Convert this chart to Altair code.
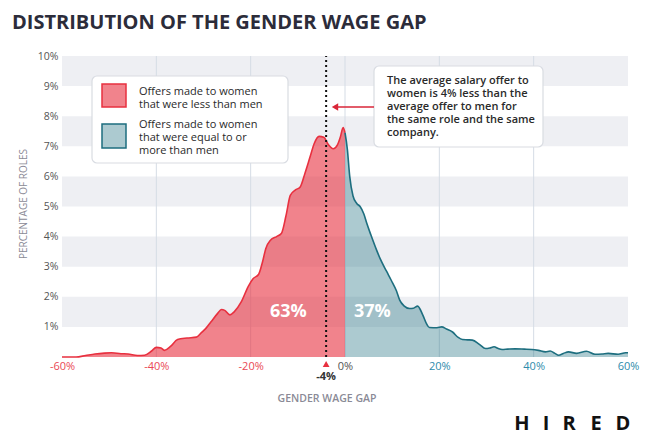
import altair as alt
import pandas as pd

# Distribution of offers by gender wage gap (% gap, % of roles)
gap = [-60, -57, -55, -53, -51, -49.5, -47.5, -46, -44, -42.5, -41, -40, -39, -38.3,
       -37, -35.5, -33.5, -31.5, -30.5, -29.5, -28.4, -27, -26.2, -25.5, -24.4, -23.5,
       -22, -20.5, -19.5, -18.3, -17.5, -16.8, -15.8, -14.5, -13.5, -12.5, -11.6, -10.5,
       -9.5, -8.5, -7.4, -6.5, -5.5, -4.5, -3.5, -2.5, -1.6, -1.0, -0.4, 0,
       0.5, 1.0, 1.7, 2.5, 3.2, 4.0, 4.6, 5.5, 6.7, 7.5, 8.8, 9.8, 10.9, 11.6, 12.5,
       13.7, 14.5, 15.4, 16.5, 17.3, 17.9, 19.5, 20.5, 21.5, 22.8, 24, 24.9, 26, 27,
       28.5, 29.8, 30.7, 31.6, 32.5, 33.3, 34.5, 36.1, 38, 39.6, 41, 42.5, 43.5, 44.5,
       45.3, 46.3, 47.4, 49.1, 51.2, 53, 54.5, 55.8, 57.9, 59.5, 60]
share = [0.0, 0.0, 0.05, 0.1, 0.13, 0.14, 0.11, 0.1, 0.05, 0.06, 0.2, 0.32, 0.3, 0.22,
         0.35, 0.58, 0.63, 0.66, 0.8, 0.95, 1.17, 1.45, 1.58, 1.55, 1.4, 1.5,
         1.83, 2.35, 2.6, 2.75, 3.15, 3.6, 3.88, 4.0, 4.1, 4.7, 5.37, 5.55,
         5.65, 6.1, 6.65, 7.1, 7.33, 7.3, 7.05, 6.92, 7.05, 7.3, 7.62, 7.45,
         6.9, 6.0, 5.35, 5.1, 5.0, 4.75, 4.45, 4.05, 3.55, 3.25, 2.85, 2.55, 2.2, 1.89, 1.7,
         1.61, 1.62, 1.69, 1.39, 1.1, 0.98, 0.97, 1.0, 0.93, 0.83, 0.65, 0.58, 0.57, 0.56,
         0.42, 0.28, 0.3, 0.34, 0.28, 0.25, 0.26, 0.27, 0.26, 0.25, 0.22, 0.17, 0.2, 0.12,
         0.06, 0.12, 0.17, 0.12, 0.19, 0.09, 0.1, 0.12, 0.09, 0.14, 0.14]

sides = ["less", "more"]
side_labels = [["Offers made to women", "that were less than men"],
               ["Offers made to women", "that were equal to or", "more than men"]]
side_shares = ["63%", "37%"]
mean_gap = -4
x_ticks = [-60, -40, -20, 0, 20, 40, 60]
y_ticks = [1, 2, 3, 4, 5, 6, 7, 8, 9, 10]
band_starts = [1, 3, 5, 7, 9]
grid_x = [-40, -20, 0, 20, 40]
note_lines = ["The average salary offer to", "women is 4% less than the",
              "average offer to men for", "the same role and the same", "company."]

RED = "#e8303f"
TEAL = "#1d6e7f"
RED_TXT = "#ea4855"
TEAL_TXT = "#2e8bab"
FONT = "Open Sans"

rows = []
for g, s in zip(gap, share):
    if g <= 0:
        rows.append({"gap": g, "share": s, "side": "less"})
    if g >= 0:
        rows.append({"gap": g, "share": s, "side": "more"})
curve = pd.DataFrame(rows)
bands = pd.DataFrame({"lo": band_starts, "hi": [b + 1 for b in band_starts]})
grid = pd.DataFrame({"g": grid_x})
one = pd.DataFrame({"k": [0]})

x_scale = alt.Scale(domain=[-60, 60], nice=False, zero=False)
y_scale = alt.Scale(domain=[0, 10], nice=False)
x_axis = alt.Axis(values=x_ticks, labelExpr="datum.value + '%'", grid=False, domain=False,
                  ticks=False, labelPadding=3, labelFontSize=11, labelFont=FONT,
                  labelFlush=False, labelOverlap=False,
                  labelColor={"condition": [{"test": "datum.value < 0", "value": RED_TXT},
                                            {"test": "datum.value > 0", "value": TEAL_TXT}],
                              "value": "#555555"},
                  title=None)
y_axis = alt.Axis(values=y_ticks, labelExpr="datum.value + '%'", grid=False, domain=False,
                  ticks=False, labelPadding=4, labelFontSize=10.5, labelFont=FONT,
                  labelFlush=False, labelOverlap=False,
                  labelColor="#555555", title=None)


def X(field):
    return alt.X(field, type="quantitative", scale=x_scale, axis=x_axis)


def Y(field, **kw):
    return alt.Y(field, type="quantitative", scale=y_scale, axis=y_axis, **kw)


def XD(v):
    return alt.XDatum(v, type="quantitative", scale=x_scale, axis=x_axis)


def YD(v):
    return alt.YDatum(v, type="quantitative", scale=y_scale, axis=y_axis)


band_layer = alt.Chart(bands).mark_rect(color="#eeeff3").encode(
    x=XD(-60), x2=alt.datum(60), y=Y("lo"), y2="hi")

grid_layer = alt.Chart(grid).mark_rule(color="#d5dce5", strokeWidth=1).encode(
    x=X("g"), y=YD(0), y2=alt.datum(10))

color_scale = alt.Scale(domain=sides, range=[RED, TEAL])
area_layer = alt.Chart(curve).mark_area(interpolate="monotone").encode(
    x=X("gap"), y=Y("share", stack=None),
    color=alt.Color("side:N", scale=color_scale, legend=None),
    opacity=alt.Opacity("side:N", scale=alt.Scale(domain=sides, range=[0.6, 0.37]), legend=None))

line_layer = alt.Chart(curve).mark_line(interpolate="monotone", strokeWidth=1.6).encode(
    x=X("gap"), y=Y("share", stack=None),
    color=alt.Color("side:N", scale=color_scale, legend=None))

mean_rule = alt.Chart(one).mark_rule(color="#111111", strokeWidth=2, strokeDash=[2, 3]).encode(
    x=XD(mean_gap), y=YD(0), y2=alt.datum(10))

mean_marker = alt.Chart(one).mark_point(shape="triangle-up", filled=True, color=RED,
                                         opacity=1, size=45).encode(
    x=XD(mean_gap), y=alt.value(308))
mean_text = alt.Chart(one).mark_text(font=FONT, fontSize=11, fontWeight="bold",
                                     color="#333333").encode(
    x=XD(mean_gap), y=alt.value(321), text=alt.value(f"{mean_gap}%"))

share_text = alt.Chart(pd.DataFrame({"gap": [-12, 5.8], "share": [1.5, 1.5],
                                     "label": side_shares})).mark_text(
    font=FONT, fontSize=18, fontWeight="bold", color="white").encode(
    x=X("gap"), y=Y("share"), text="label:N")

# legend box with swatches
legend_box = alt.Chart(one).mark_rect(fill="white", stroke="#d9dce2", strokeWidth=1.2,
                                      cornerRadius=5).encode(
    x=alt.value(30), x2=alt.value(226), y=alt.value(20), y2=alt.value(107))
swatch_red = alt.Chart(one).mark_rect(fill=RED, fillOpacity=0.6, stroke=RED, strokeWidth=1.5).encode(
    x=alt.value(40), x2=alt.value(64), y=alt.value(28), y2=alt.value(51))
swatch_teal = alt.Chart(one).mark_rect(fill=TEAL, fillOpacity=0.37, stroke=TEAL, strokeWidth=1.5).encode(
    x=alt.value(40), x2=alt.value(64), y=alt.value(68), y2=alt.value(92))
legend_text1 = alt.Chart(one).mark_text(font=FONT, fontSize=11, fontWeight=500, color="#2a2a2a",
                                        align="left", baseline="alphabetic", lineHeight=12.8).encode(
    x=alt.value(77), y=alt.value(39), text=alt.value(side_labels[0]))
legend_text2 = alt.Chart(one).mark_text(font=FONT, fontSize=11, fontWeight=500, color="#2a2a2a",
                                        align="left", baseline="alphabetic", lineHeight=12.8).encode(
    x=alt.value(77), y=alt.value(72), text=alt.value(side_labels[1]))

# callout box with arrow toward the mean line
note_box = alt.Chart(one).mark_rect(fill="white", stroke="#d9dce2", strokeWidth=1.2,
                                    cornerRadius=5).encode(
    x=alt.value(312), x2=alt.value(481), y=alt.value(10), y2=alt.value(91))
note_text = alt.Chart(one).mark_text(font=FONT, fontSize=11, fontWeight=600, color="#2a2a2a",
                                     align="left", baseline="alphabetic", lineHeight=12.9).encode(
    x=alt.value(325), y=alt.value(28), text=alt.value(note_lines))
arrow_line = alt.Chart(one).mark_rule(color="#d92638", strokeWidth=1.6).encode(
    x=alt.value(276), x2=alt.value(312), y=alt.value(51))
arrow_head = alt.Chart(one).mark_point(shape="triangle-left", filled=True, color="#d92638",
                                       opacity=1, size=55).encode(
    x=alt.value(273), y=alt.value(51))

title_text = alt.Chart(one).mark_text(font=FONT, fontSize=20, fontWeight="bold", color="#2c2c3a",
                                      align="left", baseline="alphabetic").encode(
    x=alt.value(-50), y=alt.value(-27), text=alt.value("DISTRIBUTION OF THE GENDER WAGE GAP"))
y_title = alt.Chart(one).mark_text(font=FONT, fontSize=10, fontWeight=500, color="#8a8a96",
                                   angle=270, align="center", baseline="middle").encode(
    x=alt.value(-38), y=alt.value(148), text=alt.value("PERCENTAGE OF ROLES"))
x_title = alt.Chart(one).mark_text(font=FONT, fontSize=10.5, fontWeight=600, color="#8a8a96",
                                   align="center", baseline="middle").encode(
    x=alt.value(265), y=alt.value(343), text=alt.value("GENDER WAGE GAP"))

logo_layers = []
for letter, cx in zip("HIRED", [460, 484, 507, 534, 561]):
    logo_layers.append(alt.Chart(one).mark_text(font=FONT, fontSize=20, fontWeight="bold",
                                                color="#111111", align="center",
                                                baseline="alphabetic").encode(
        x=alt.value(cx), y=alt.value(374), text=alt.value(letter)))

chart = alt.layer(
    band_layer, grid_layer, area_layer, line_layer, mean_rule, share_text,
    mean_marker, mean_text,
    legend_box, swatch_red, swatch_teal, legend_text1, legend_text2,
    note_box, note_text, arrow_line, arrow_head,
    title_text, y_title, x_title, *logo_layers
).properties(
    width=566, height=301,
    padding={"left": 62, "top": 56, "right": 18, "bottom": 88},
    autosize=alt.AutoSizeParams(type="none"),
    background="white",
).configure_view(stroke=None)

chart.save("out.html", embed_options={"renderer": "svg", "actions": False})
